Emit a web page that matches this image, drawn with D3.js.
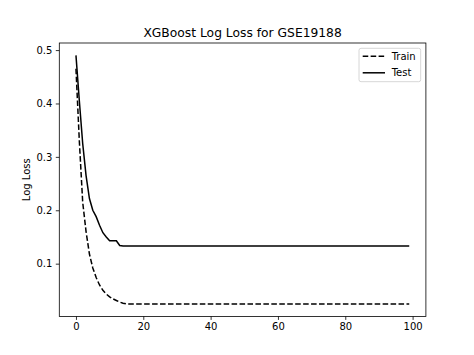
<!DOCTYPE html>
<html><head><meta charset="utf-8">
<script src="https://cdn.jsdelivr.net/npm/d3@7"></script>
<style>body{margin:0;background:#fff}svg{display:block}text{font-family:"DejaVu Sans",sans-serif;fill:#000}</style>
</head><body><svg id="c" width="474" height="355"></svg>
<script>
const titleText = "XGBoost Log Loss for GSE19188";
const yLabel = "Log Loss";
const xTicks = [0, 20, 40, 60, 80, 100];
const yTicks = [0.1, 0.2, 0.3, 0.4, 0.5];
const trainHead = [0.465, 0.33, 0.215, 0.16, 0.118, 0.092, 0.074, 0.06, 0.05, 0.043, 0.038, 0.034, 0.031, 0.028, 0.026];
const trainTail = 0.0245;
const testHead = [0.49, 0.405, 0.325, 0.265, 0.222, 0.2, 0.188, 0.172, 0.158, 0.15, 0.143, 0.143, 0.143, 0.134, 0.133];
const testTail = 0.133;
const nIter = 100;

const iters = d3.range(nIter);
const train = iters.map(i => i < trainHead.length ? trainHead[i] : trainTail);
const test = iters.map(i => i < testHead.length ? testHead[i] : testTail);

const svg = d3.select("#c");
const L = 59.3, R = 425.9, T = 43, B = 316.4;
const x = d3.scaleLinear().domain([-4.95, 103.95]).range([L, R]);
const yMin = d3.min(train), yMax = d3.max(test), pad = (yMax - yMin) * 0.05;
const y = d3.scaleLinear().domain([yMin - pad, yMax + pad]).range([B, T]);

const line = d3.line().x((d, i) => x(i)).y(d => y(d));
svg.append("path").datum(train).attr("d", line).attr("fill", "none").attr("stroke", "#000").attr("stroke-width", 1.5).attr("stroke-dasharray", "5.55,2.4");
svg.append("path").datum(test).attr("d", line).attr("fill", "none").attr("stroke", "#000").attr("stroke-width", 1.5);

const xa = svg.append("g").attr("transform", `translate(0,${B})`).call(d3.axisBottom(x).tickValues(xTicks).tickSize(3.5).tickPadding(3.5).tickFormat(d3.format("d")));
const ya = svg.append("g").attr("transform", `translate(${L},0)`).call(d3.axisLeft(y).tickValues(yTicks).tickSize(3.5).tickPadding(3.5).tickFormat(d3.format(".1f")));
[xa, ya].forEach(g => { g.select(".domain").remove(); g.selectAll("text").attr("font-size", 10).attr("font-family", "DejaVu Sans"); g.selectAll("line").attr("stroke", "#000").attr("stroke-width", 0.8); });

svg.append("rect").attr("x", L).attr("y", T).attr("width", R - L).attr("height", B - T).attr("fill", "none").attr("stroke", "#000").attr("stroke-width", 0.8);

svg.append("text").attr("x", (L + R) / 2).attr("y", T - 6).attr("text-anchor", "middle").attr("font-size", 12.3).text(titleText);
svg.append("text").attr("transform", `translate(30,${(T + B) / 2}) rotate(-90)`).attr("text-anchor", "middle").attr("font-size", 10).text(yLabel);

const lg = svg.append("g");
lg.append("rect").attr("x", 359).attr("y", 48.3).attr("width", 61.7).attr("height", 33.4).attr("rx", 2).attr("fill", "#fff").attr("fill-opacity", 0.8).attr("stroke", "#ccc").attr("stroke-width", 0.8);
const items = [{name: "Train", dash: "5.55,2.4"}, {name: "Test", dash: null}];
items.forEach((it, k) => {
  const cy = 56.3 + k * 16.5;
  lg.append("line").attr("x1", 362.7).attr("x2", 385).attr("y1", cy).attr("y2", cy).attr("stroke", "#000").attr("stroke-width", 1.5).attr("stroke-dasharray", it.dash);
  lg.append("text").attr("x", 391.7).attr("y", cy).attr("dy", "0.35em").attr("font-size", 10).text(it.name);
});
</script></body></html>
